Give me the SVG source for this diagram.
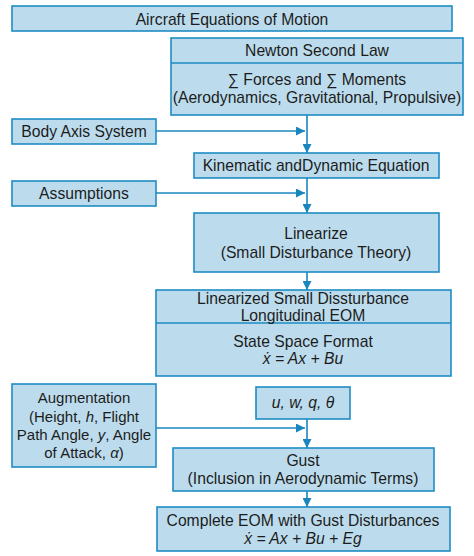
<svg xmlns="http://www.w3.org/2000/svg" width="474" height="556" viewBox="0 0 474 556">
<style>
.box{fill:#bcdcee;stroke:#1e8cc2;stroke-width:1.6}
.div{stroke:#1e8cc2;stroke-width:1.6}
text{font-family:"Liberation Sans",Arial,sans-serif;font-size:15.7px;fill:#1c1c1c;text-anchor:middle}
.it{font-style:italic}
.sm{font-size:15px}
.con{stroke:#1a86be;stroke-width:1.6;fill:none}
</style>
<defs>
<marker id="ah" viewBox="0 0 10 10" refX="10" refY="5" markerWidth="9" markerHeight="9" markerUnits="userSpaceOnUse" orient="auto">
<path d="M0,0 L10,5 L0,10 Z" fill="#1a86be"/>
</marker>
</defs>
<rect width="474" height="556" fill="#ffffff"/>
<g id="connectors">
<line class="con" x1="307" y1="115" x2="307" y2="153" marker-end="url(#ah)"/>
<line class="con" x1="156" y1="131" x2="305" y2="131" marker-end="url(#ah)"/>
<line class="con" x1="307" y1="178" x2="307" y2="213" marker-end="url(#ah)"/>
<line class="con" x1="156" y1="193" x2="305" y2="193" marker-end="url(#ah)"/>
<line class="con" x1="307" y1="272" x2="307" y2="290" marker-end="url(#ah)"/>
<line class="con" x1="307" y1="419" x2="307" y2="448" marker-end="url(#ah)"/>
<line class="con" x1="156" y1="428" x2="305" y2="428" marker-end="url(#ah)"/>
<line class="con" x1="307" y1="491" x2="307" y2="507" marker-end="url(#ah)"/>
</g>
<g id="title">
<rect class="box" x="12" y="6" width="440" height="25"/>
<text x="232" y="24.5">Aircraft Equations of Motion</text>
</g>
<g id="newton">
<rect class="box" x="171" y="38" width="292" height="77"/>
<line class="div" x1="171" y1="63" x2="463" y2="63"/>
<text x="317" y="56">Newton Second Law</text>
<text x="317" y="85">∑ Forces and ∑ Moments</text>
<text x="317" y="103">(Aerodynamics, Gravitational, Propulsive)</text>
</g>
<g id="body-axis">
<rect class="box" x="12" y="119" width="144" height="25"/>
<text x="84" y="137">Body Axis System</text>
</g>
<g id="kinematic">
<rect class="box" x="194" y="153" width="245" height="25"/>
<text x="316" y="171">Kinematic andDynamic Equation</text>
</g>
<g id="assumptions">
<rect class="box" x="12" y="181" width="144" height="25"/>
<text x="84" y="199">Assumptions</text>
</g>
<g id="linearize">
<rect class="box" x="194" y="213" width="245" height="59"/>
<text x="316" y="239">Linearize</text>
<text x="316" y="258">(Small Disturbance Theory)</text>
</g>
<g id="linearized-eom">
<rect class="box" x="156" y="290" width="295" height="86"/>
<line class="div" x1="156" y1="323" x2="451" y2="323"/>
<text x="303" y="304">Linearized Small Dissturbance</text>
<text x="303" y="320.5">Longitudinal EOM</text>
<text x="303" y="347">State Space Format</text>
<text x="303" y="364" class="it">ẋ = Ax + Bu</text>
</g>
<g id="augmentation">
<rect class="box" x="12" y="384" width="144" height="83"/>
<text class="sm" x="84" y="403">Augmentation</text>
<text class="sm" x="84" y="422">(Height, <tspan class="it">h</tspan>, Flight</text>
<text class="sm" x="84" y="440">Path Angle, <tspan class="it">y</tspan>, Angle</text>
<text class="sm" x="84" y="458">of Attack, <tspan class="it">α</tspan>)</text>
</g>
<g id="states">
<rect class="box" x="256" y="387" width="94" height="32"/>
<text x="303" y="408" class="it">u, w, q, θ</text>
</g>
<g id="gust">
<rect class="box" x="173" y="448" width="261" height="43"/>
<text x="303" y="466">Gust</text>
<text x="303" y="484">(Inclusion in Aerodynamic Terms)</text>
</g>
<g id="complete">
<rect class="box" x="157" y="507" width="293" height="44"/>
<text x="303" y="526">Complete EOM with Gust Disturbances</text>
<text x="303" y="544" class="it">ẋ = Ax + Bu + Eg</text>
</g>
</svg>
